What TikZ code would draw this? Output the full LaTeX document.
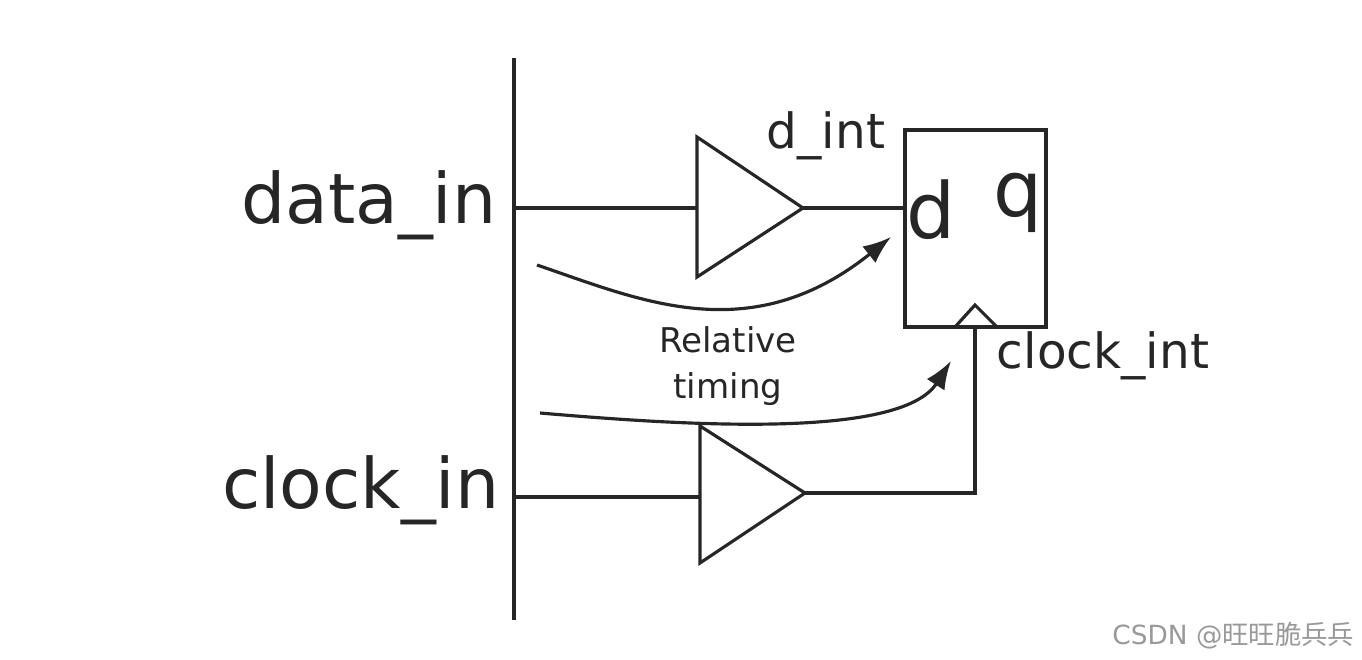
\documentclass[tikz,border=0pt]{standalone}
\usepackage{fontspec}
\setmainfont{DejaVu Sans}
\newfontfamily\cjk{Noto Sans CJK SC}
\usetikzlibrary{arrows.meta}
\begin{document}
\begin{tikzpicture}[x=0.01cm,y=-0.01cm,
  wire/.style={line width=0.9pt,draw=black!85},
  arr/.style={line width=0.9pt,draw=black!85,-{Latex[length=8pt,width=6pt]}},
  big/.style={font=\fontsize{19.8}{22}\selectfont,text=black!85,inner sep=0},
  mid/.style={font=\fontsize{13.8}{16}\selectfont,text=black!85,inner sep=0},
  small/.style={font=\fontsize{9.7}{13}\selectfont,text=black!85,inner sep=0,align=center}]
\useasboundingbox (0,0) rectangle (1362,660);
\coordinate (vt) at (514,58); \coordinate (vb) at (514,620);
\draw[wire] (vt) -- (vb);
\node[big,anchor=east] (din) at (497,205) {data\_in};
\node[big,anchor=east] (cin) at (500,490) {clock\_in};
\coordinate (d0) at (514,208);
\coordinate (c0) at (514,497);
% buffers
\draw[wire] (697,137) -- (697,277) -- (803,208) -- cycle;
\coordinate (b1i) at (697,208); \coordinate (b1o) at (803,208);
\draw[wire] (700,426) -- (700,563) -- (805,493) -- cycle;
\coordinate (b2i) at (700,497); \coordinate (b2o) at (805,493);
% flip-flop
\draw[wire] (905,130) rectangle (1046,327);
\draw[wire] (955,327) -- (975,305) -- (997,327);
\coordinate (ffd) at (905,208);
\coordinate (ffc) at (975,327);
\coordinate (cc) at (975,493);
\node[big,font=\fontsize{22}{24}\selectfont] (d) at (931,210) {d};
\node[big,font=\fontsize{22}{24}\selectfont] (q) at (1018,203) {q};
\draw[wire] (d0) -- (b1i);
\draw[wire] (b1o) -- (ffd);
\draw[wire] (c0) -- (b2i);
\draw[wire] (b2o) -- (cc) -- (ffc);
\node[mid] (dint) at (826,136) {d\_int};
\node[mid] (cint) at (1103,356) {clock\_int};
\node[small] (rt) at (728,366) {Relative\\timing};
\coordinate (a1s) at (537,265); \coordinate (a1e) at (891,237);
\coordinate (a2s) at (540,413); \coordinate (a2e) at (951,361);
\draw[arr] (a1s) .. controls (640,300) and (750,350) .. (a1e);
\draw[arr] (a2s) .. controls (680,425) and (900,440) .. (a2e);
\node[inner sep=0,anchor=east,text=black!40,font=\fontsize{7.5}{9}\selectfont] (wm) at (1355,636) {CSDN @{\cjk 旺旺脆兵兵}};
\end{tikzpicture}
\end{document}
